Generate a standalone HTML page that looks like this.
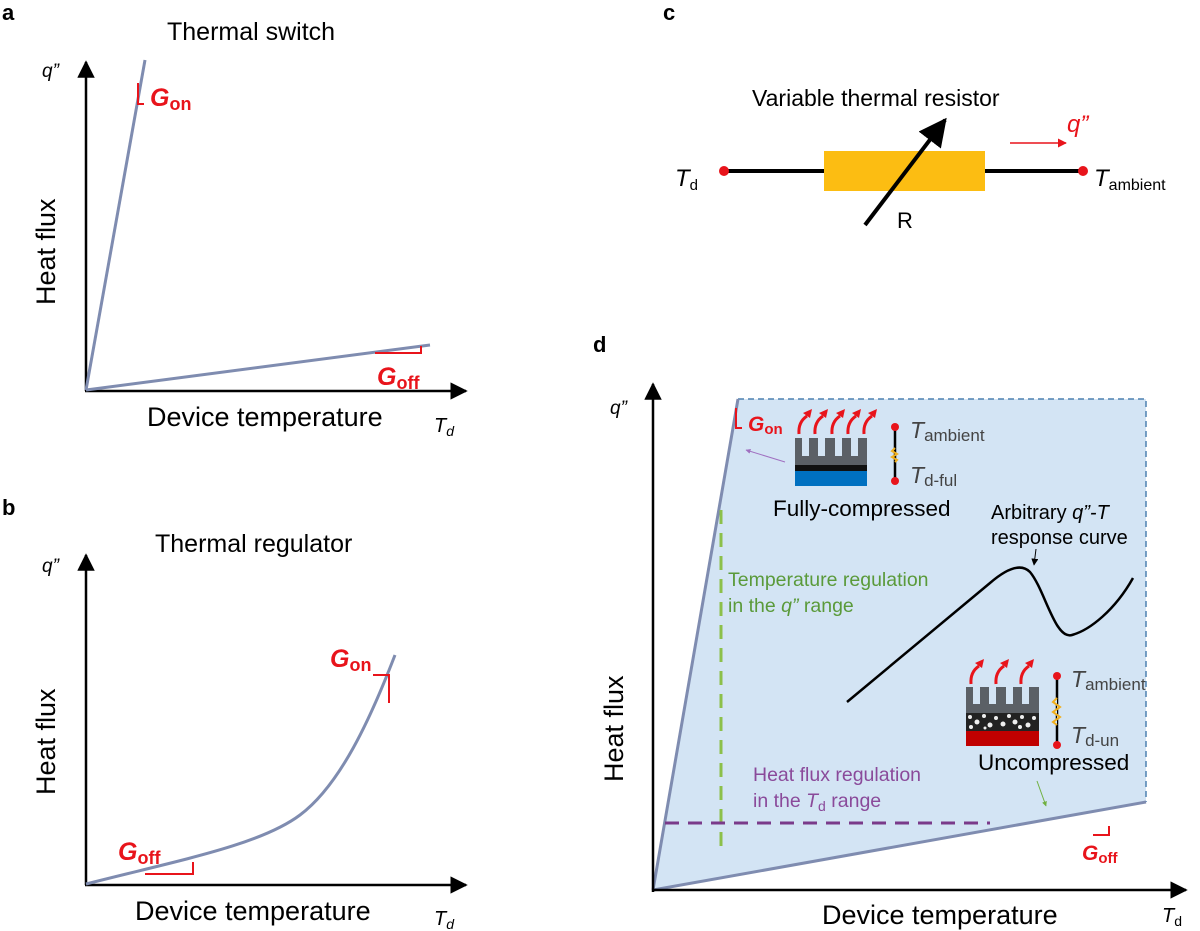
<!DOCTYPE html>
<html><head><meta charset="utf-8"><style>
body{margin:0;background:#fff}
svg{display:block;font-family:"Liberation Sans",Arial,sans-serif}
</style></head><body>
<svg width="1200" height="931" viewBox="0 0 1200 931" xmlns="http://www.w3.org/2000/svg">
<defs>
<marker id="ah" viewBox="0 0 10 10" refX="9" refY="5" markerWidth="7" markerHeight="7" orient="auto"><path d="M0,0L10,5L0,10z" fill="#000"/></marker>
<marker id="ahr" viewBox="0 0 10 10" refX="9" refY="5" markerWidth="6" markerHeight="6" orient="auto"><path d="M0,0L10,5L0,10z" fill="#e8141b"/></marker>
<marker id="ahp" viewBox="0 0 10 10" refX="9" refY="5" markerWidth="5" markerHeight="5" orient="auto"><path d="M0,0L10,5L0,10z" fill="#a070c0"/></marker>
<marker id="ahg" viewBox="0 0 10 10" refX="9" refY="5" markerWidth="5" markerHeight="5" orient="auto"><path d="M0,0L10,5L0,10z" fill="#70b040"/></marker>
</defs>
<!-- panel a -->
<text x="2" y="20" font-size="22" font-weight="bold">a</text>
<text x="167" y="40" font-size="25">Thermal switch</text>
<line x1="86" y1="391" x2="86" y2="62" stroke="#000" stroke-width="2.5" marker-end="url(#ah)"/>
<line x1="85" y1="391" x2="466" y2="391" stroke="#000" stroke-width="2.5" marker-end="url(#ah)"/>
<text x="42" y="77" font-size="19" font-style="italic">q”</text>
<text x="434" y="432" font-size="20" font-style="italic">T<tspan font-size="14" dy="4">d</tspan></text>
<text transform="translate(55,305) rotate(-90)" font-size="27">Heat flux</text>
<text x="147" y="426" font-size="27">Device temperature</text>
<line x1="86" y1="390" x2="145" y2="60" stroke="#7f8cb0" stroke-width="3"/>
<line x1="86" y1="390" x2="430" y2="345" stroke="#7f8cb0" stroke-width="3"/>
<path d="M138,83 L138,104 L144,104" fill="none" stroke="#e8141b" stroke-width="2"/>
<text x="150" y="106" font-size="25" font-weight="bold" font-style="italic" fill="#e8141b">G<tspan font-size="18" font-style="normal" dy="4">on</tspan></text>
<path d="M375,353 L421,353 L421,346" fill="none" stroke="#e8141b" stroke-width="2"/>
<text x="377" y="385" font-size="25" font-weight="bold" font-style="italic" fill="#e8141b">G<tspan font-size="18" font-style="normal" dy="4">off</tspan></text>
<!-- panel b -->
<text x="2" y="515" font-size="22" font-weight="bold">b</text>
<text x="155" y="552" font-size="25">Thermal regulator</text>
<line x1="86" y1="885" x2="86" y2="555" stroke="#000" stroke-width="2.5" marker-end="url(#ah)"/>
<line x1="85" y1="885" x2="466" y2="885" stroke="#000" stroke-width="2.5" marker-end="url(#ah)"/>
<text x="42" y="572" font-size="19" font-style="italic">q”</text>
<text x="434" y="925" font-size="20" font-style="italic">T<tspan font-size="14" dy="4">d</tspan></text>
<text transform="translate(55,795) rotate(-90)" font-size="27">Heat flux</text>
<text x="135" y="920" font-size="27">Device temperature</text>
<path d="M86,884 C180,860 260,845 300,815 C340,785 370,720 395,655" fill="none" stroke="#7f8cb0" stroke-width="3"/>
<path d="M145,874 L193,874 L193,862" fill="none" stroke="#e8141b" stroke-width="2"/>
<text x="118" y="860" font-size="25" font-weight="bold" font-style="italic" fill="#e8141b">G<tspan font-size="18" font-style="normal" dy="4">off</tspan></text>
<path d="M373,675 L389,675 L389,703" fill="none" stroke="#e8141b" stroke-width="2"/>
<text x="330" y="667" font-size="25" font-weight="bold" font-style="italic" fill="#e8141b">G<tspan font-size="18" font-style="normal" dy="4">on</tspan></text>
<!-- panel c -->
<text x="663" y="20" font-size="22" font-weight="bold">c</text>
<text x="752" y="106" font-size="23">Variable thermal resistor</text>
<text x="675" y="186" font-size="24" font-style="italic">T<tspan font-size="15" font-style="normal" dy="4">d</tspan></text>
<line x1="724" y1="171" x2="1083" y2="171" stroke="#000" stroke-width="4"/>
<rect x="824" y="151" width="161" height="40" fill="#fcbd12"/>
<circle cx="724" cy="171" r="5" fill="#e8141b"/>
<circle cx="1083" cy="171" r="5" fill="#e8141b"/>
<line x1="865" y1="225" x2="945" y2="120" stroke="#000" stroke-width="4" marker-end="url(#ah)"/>
<text x="897" y="228" font-size="22">R</text>
<line x1="1010" y1="143" x2="1066" y2="143" stroke="#e8141b" stroke-width="1.5" marker-end="url(#ahr)"/>
<text x="1067" y="132" font-size="24" font-style="italic" fill="#e8141b">q”</text>
<text x="1094" y="186" font-size="24" font-style="italic">T<tspan font-size="16" font-style="normal" dy="4">ambient</tspan></text>
<!-- panel d -->
<text x="593" y="352" font-size="22" font-weight="bold">d</text>
<path d="M653,890 L738,399 L1146,399 L1146,802 Z" fill="#d3e4f4"/>
<path d="M738,399 L1146,399 L1146,802" fill="none" stroke="#4d80b0" stroke-width="1.5" stroke-dasharray="6,4"/>
<line x1="653" y1="890" x2="738" y2="399" stroke="#7f8cb0" stroke-width="3"/>
<line x1="653" y1="890" x2="1146" y2="802" stroke="#7f8cb0" stroke-width="3"/>
<line x1="653" y1="892" x2="653" y2="384" stroke="#000" stroke-width="2.5" marker-end="url(#ah)"/>
<line x1="652" y1="890" x2="1186" y2="890" stroke="#000" stroke-width="2.5" marker-end="url(#ah)"/>
<text x="610" y="414" font-size="19" font-style="italic">q”</text>
<text x="1162" y="922" font-size="20" font-style="italic">T<tspan font-size="14" font-style="normal" dy="4">d</tspan></text>
<text transform="translate(623,782) rotate(-90)" font-size="27">Heat flux</text>
<text x="822" y="924" font-size="27">Device temperature</text>
<line x1="721" y1="510" x2="721" y2="852" stroke="#8cc04a" stroke-width="3" stroke-dasharray="14,9"/>
<line x1="665" y1="823" x2="990" y2="823" stroke="#7a3a8a" stroke-width="3" stroke-dasharray="14,9"/>
<text x="728" y="586" font-size="19.5" fill="#5a9a3a">Temperature regulation</text>
<text x="728" y="612" font-size="19.5" fill="#5a9a3a">in the <tspan font-style="italic">q”</tspan> range</text>
<text x="753" y="781" font-size="19.5" fill="#8a4a9a">Heat flux regulation</text>
<text x="753" y="807" font-size="19.5" fill="#8a4a9a">in the <tspan font-style="italic">T</tspan><tspan font-size="14" dy="4">d</tspan><tspan dy="-4"> range</tspan></text>
<path d="M736,408 L736,428 L742,428" fill="none" stroke="#e8141b" stroke-width="2"/>
<text x="748" y="431" font-size="21" font-weight="bold" font-style="italic" fill="#e8141b">G<tspan font-size="15" font-style="normal" dy="3">on</tspan></text>
<path d="M1093,835 L1109,835 L1109,826" fill="none" stroke="#e8141b" stroke-width="2"/>
<text x="1082" y="860" font-size="21" font-weight="bold" font-style="italic" fill="#e8141b">G<tspan font-size="15" font-style="normal" dy="3">off</tspan></text>
<line x1="785" y1="462" x2="746" y2="450" stroke="#a070c0" stroke-width="1" marker-end="url(#ahp)"/>
<line x1="1037" y1="781" x2="1046" y2="806" stroke="#70b040" stroke-width="1" marker-end="url(#ahg)"/>
<!-- curve -->
<path d="M847,702 L990,583 C1005,570 1020,562 1030,572 C1045,590 1055,640 1072,635 C1090,630 1115,610 1133,578" fill="none" stroke="#000" stroke-width="2.5"/>
<line x1="1036" y1="549" x2="1034" y2="565" stroke="#000" stroke-width="1" marker-end="url(#ah)"/>
<text x="991" y="519" font-size="20">Arbitrary <tspan font-style="italic">q”-T</tspan></text>
<text x="991" y="544" font-size="20">response curve</text>
<!-- fully compressed icon -->
<g>
<path d="M795,438h72v27h-72z" fill="#5b6066"/>
<rect x="802" y="438" width="7" height="18" fill="#d3e4f4"/>
<rect x="818" y="438" width="7" height="18" fill="#d3e4f4"/>
<rect x="835" y="438" width="7" height="18" fill="#d3e4f4"/>
<rect x="851" y="438" width="7" height="18" fill="#d3e4f4"/>
<rect x="795" y="465" width="72" height="6" fill="#111"/>
<rect x="795" y="471" width="72" height="15" fill="#0070c0"/>
<g fill="none" stroke="#e8141b" stroke-width="3">
<path d="M799,434 q-1,-12 8,-18"/><path d="M815,434 q-1,-12 8,-18"/><path d="M832,434 q-1,-12 8,-18"/><path d="M848,434 q-1,-12 8,-18"/><path d="M864,434 q-1,-12 8,-18"/>
</g>
<g fill="#e8141b"><path d="M803,413l9,-4l-2,9z"/><path d="M819,413l9,-4l-2,9z"/><path d="M836,413l9,-4l-2,9z"/><path d="M852,413l9,-4l-2,9z"/><path d="M868,413l9,-4l-2,9z"/></g>
<line x1="895" y1="427" x2="895" y2="481" stroke="#000" stroke-width="2.5"/>
<path d="M895,448 l-3,3 l5,3 l-5,3 l5,3 l-2,2" fill="none" stroke="#f0b020" stroke-width="2"/>
<circle cx="895" cy="427" r="4" fill="#e8141b"/><circle cx="895" cy="481" r="4" fill="#e8141b"/>
<text x="910" y="438" font-size="23" font-style="italic" fill="#444">T<tspan font-size="17" font-style="normal" dy="3">ambient</tspan></text>
<text x="910" y="483" font-size="23" font-style="italic" fill="#444">T<tspan font-size="17" font-style="normal" dy="3">d-ful</tspan></text>
<text x="773" y="516" font-size="22.5">Fully-compressed</text>
</g>
<!-- uncompressed icon -->
<g>
<rect x="966" y="687" width="73" height="26" fill="#5b6066"/>
<rect x="973" y="687" width="7" height="17" fill="#d3e4f4"/>
<rect x="989" y="687" width="7" height="17" fill="#d3e4f4"/>
<rect x="1006" y="687" width="7" height="17" fill="#d3e4f4"/>
<rect x="1022" y="687" width="7" height="17" fill="#d3e4f4"/>
<rect x="966" y="713" width="73" height="18" fill="#222"/>
<g fill="#eee"><circle cx="970" cy="717" r="2"/><circle cx="977" cy="722" r="2.5"/><circle cx="984" cy="716" r="2"/><circle cx="990" cy="725" r="2.5"/><circle cx="996" cy="718" r="2"/><circle cx="1003" cy="724" r="2.5"/><circle cx="1009" cy="716" r="2"/><circle cx="1015" cy="722" r="2.5"/><circle cx="1022" cy="717" r="2"/><circle cx="1028" cy="725" r="2.5"/><circle cx="1034" cy="718" r="2"/><circle cx="971" cy="727" r="2"/><circle cx="1020" cy="727" r="2"/><circle cx="985" cy="728" r="1.5"/></g>
<rect x="966" y="731" width="73" height="15" fill="#c00000"/>
<g fill="none" stroke="#e8141b" stroke-width="3"><path d="M971,684 q-1,-12 8,-18"/><path d="M996,684 q-1,-12 8,-18"/><path d="M1021,684 q-1,-12 8,-18"/></g>
<g fill="#e8141b"><path d="M975,663l9,-4l-2,9z"/><path d="M1000,663l9,-4l-2,9z"/><path d="M1025,663l9,-4l-2,9z"/></g>
<line x1="1057" y1="676" x2="1057" y2="745" stroke="#000" stroke-width="2.5"/>
<path d="M1057,698 l-4,4 l7,5 l-7,5 l7,5 l-7,5 l4,3" fill="#d3e4f4" stroke="#f0b020" stroke-width="2"/>
<circle cx="1057" cy="676" r="4" fill="#e8141b"/><circle cx="1057" cy="745" r="4" fill="#e8141b"/>
<text x="1071" y="687" font-size="23" font-style="italic" fill="#444">T<tspan font-size="17" font-style="normal" dy="3">ambient</tspan></text>
<text x="1071" y="743" font-size="23" font-style="italic" fill="#444">T<tspan font-size="17" font-style="normal" dy="3">d-un</tspan></text>
<text x="978" y="770" font-size="22.5">Uncompressed</text>
</g>
</svg>
</body></html>
